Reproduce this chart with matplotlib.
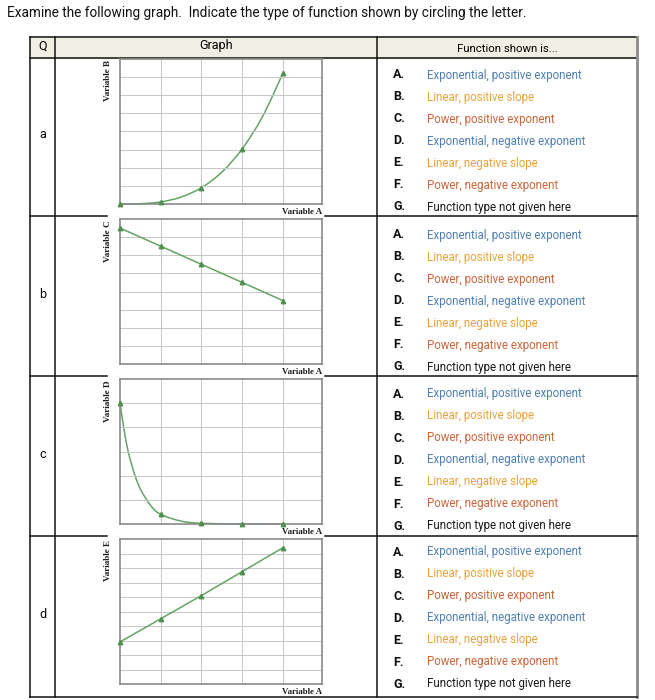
"""Worksheet: identify the function type shown in four small graphs."""
import matplotlib
matplotlib.use("Agg")
import matplotlib.pyplot as plt
from matplotlib.path import Path
from matplotlib.patches import PathPatch
import numpy as np

W, H = 655, 700
SANS = ["Roboto", "DejaVu Sans"]
SERIF = ["Liberation Serif", "DejaVu Serif"]

TITLE = "Examine the following graph.  Indicate the type of function shown by circling the letter."
HEADERS = ["Q", "Graph", "Function shown is..."]
ROW_LABELS = ["a", "b", "c", "d"]
Y_LABELS = ["Variable B", "Variable C", "Variable D", "Variable E"]
X_LABEL = "Variable A"

OPTION_LETTERS = ["A.", "B.", "C.", "D.", "E.", "F.", "G."]
OPTION_TEXTS = [
    "Exponential, positive exponent",
    "Linear, positive slope",
    "Power, positive exponent",
    "Exponential, negative exponent",
    "Linear, negative slope",
    "Power, negative exponent",
    "Function type not given here",
]
OPTION_COLORS = ["#4f7fb3", "#e8a23c", "#c9663c", "#4f7fb3", "#e8a23c", "#c9663c", "#1a1a1a"]

# marker points (x = 0..4) for each graph
MARK_X = [0, 1, 2, 3, 4]
MARK_Y = [
    [0, 1, 8, 27, 64],
    [7.5, 6.5, 5.5, 4.5, 3.5],
    [5.0, 0.4, 0.03, 0.0, 0.0],
    [2.9, 4.5, 6.1, 7.75, 9.4],
]
# extra points
CURVE_A_X = [0, 0.5, 1, 1.5, 2, 2.5, 3, 3.5, 4]
CURVE_A_Y = [0, 0.15, 1, 3.4, 8, 15.6, 27, 42.8, 64]
CURVE_C_X = [0, 0.1, 0.2, 0.35, 0.5, 0.75, 1, 1.5, 2, 3, 4]
CURVE_C_Y = [5.0, 3.9, 3.0, 2.1, 1.45, 0.77, 0.4, 0.12, 0.03, 0.0, 0.0]

Y_MAX = [71, 8, 6, 10]
Y_STEP = [71 / 8, 1, 1, 1]

# table geometry (pixels from top-left)
TABLE_L, TABLE_R = 30, 637
COL_Q, COL_F = 55, 377
HEAD_T, HEAD_B = 37, 58
ROW_B = [216, 376, 536, 697]
BOX_T = [59, 219, 379, 539]
BOX_H = 145
BOX_L, BOX_R = 120, 322
OPT_Y0 = [75, 235, 394, 552]
OPT_DY = 22

LINE_C = "#64a464"
GRID_C = "#c9c9c9"
FRAME_C = "#8a8a8a"


def smooth_path(xs, ys):
    """Catmull-Rom style Bezier path through the given points."""
    pts = np.column_stack([xs, ys]).astype(float)
    verts, codes = [pts[0]], [Path.MOVETO]
    for i in range(len(pts) - 1):
        p0 = pts[max(i - 1, 0)]
        p1, p2 = pts[i], pts[i + 1]
        p3 = pts[min(i + 2, len(pts) - 1)]
        verts += [p1 + (p2 - p0) / 6, p2 - (p3 - p1) / 6, p2]
        codes += [Path.CURVE4] * 3
    return Path(verts, codes)


def px_rect(l, t, r, b):
    return [l / W, 1 - b / H, (r - l) / W, (b - t) / H]


fig = plt.figure(figsize=(W / 100, H / 100), dpi=100)
bg = fig.add_axes([0, 0, 1, 1])
bg.set_xlim(0, W)
bg.set_ylim(H, 0)
bg.axis("off")

bg.text(7, 13, TITLE, fontsize=9.8, family=SANS, va="center", ha="left", color="#111111")

# header band
bg.fill_between([TABLE_L, TABLE_R], HEAD_T, HEAD_B, color="#f1efe3", zorder=0)
bg.text((TABLE_L + COL_Q) / 2, 46, HEADERS[0], fontsize=9, family=SANS, ha="center", va="center")
bg.text((COL_Q + COL_F) / 2, 46, HEADERS[1], fontsize=9, family=SANS, ha="center", va="center")
bg.text((COL_F + TABLE_R) / 2, 49, HEADERS[2], fontsize=8.2, family=SANS, ha="center", va="center")

lk = dict(color="#111111", lw=1.1)
bg.plot([TABLE_L, TABLE_R], [HEAD_T, HEAD_T], **lk)
bg.plot([TABLE_L, TABLE_R], [HEAD_B, HEAD_B], **lk)
bg.plot([TABLE_L, TABLE_L], [HEAD_T, ROW_B[-1]], **lk)
bg.plot([COL_Q, COL_Q], [HEAD_T, ROW_B[-1]], **lk)
bg.plot([COL_F, COL_F], [HEAD_T, ROW_B[-1]], **lk)
bg.plot([TABLE_R, TABLE_R], [HEAD_T, ROW_B[-1]], color="#8c8c8c", lw=2)
for i, yb in enumerate(ROW_B):
    if i == len(ROW_B) - 1:
        bg.plot([TABLE_L, TABLE_R], [yb, yb], **lk)
    else:
        # the chart images sit on top of the row lines
        bg.plot([TABLE_L, 107], [yb, yb], **lk)
        bg.plot([325, TABLE_R], [yb, yb], **lk)

for i, lab in enumerate(ROW_LABELS):
    top = HEAD_B if i == 0 else ROW_B[i - 1]
    bg.text((TABLE_L + COL_Q) / 2, (top + ROW_B[i]) / 2 - 2, lab, fontsize=9,
            family=SANS, ha="center", va="center")
    for j in range(7):
        y = OPT_Y0[i] + j * OPT_DY
        bg.text(393, y, OPTION_LETTERS[j], fontsize=9, family=SANS, weight="bold",
                ha="left", va="center", color="#111111")
        bg.text(427, y, OPTION_TEXTS[j], fontsize=8.3, family=SANS,
                ha="left", va="center", color=OPTION_COLORS[j])

# the four small graphs
for i in range(4):
    ax = fig.add_axes(px_rect(BOX_L, BOX_T[i], BOX_R, BOX_T[i] + BOX_H))
    ax.set_xlim(0, 4.96)
    ax.set_ylim(0, Y_MAX[i])
    ax.set_xticks([1, 2, 3, 4])
    ax.set_yticks(np.arange(1, 8 if i == 0 else Y_MAX[i]) * Y_STEP[i])
    ax.grid(True, color=GRID_C, lw=0.8)
    ax.tick_params(length=0, labelbottom=False, labelleft=False)
    for s in ax.spines.values():
        s.set_color(FRAME_C)
        s.set_linewidth(1.2)

    if i == 0:
        ax.add_patch(PathPatch(smooth_path(CURVE_A_X, CURVE_A_Y), fill=False,
                               edgecolor=LINE_C, lw=1.1, clip_on=False))
    elif i == 2:
        ax.add_patch(PathPatch(smooth_path(CURVE_C_X, CURVE_C_Y), fill=False,
                               edgecolor=LINE_C, lw=1.1, clip_on=False))
    else:
        ax.plot(MARK_X, MARK_Y[i], color=LINE_C, lw=1.1, clip_on=False)
    ax.plot(MARK_X, MARK_Y[i], ls="none", marker="^", ms=3.2, color="#4f8f4f",
            clip_on=False, zorder=5)

    bg.text(108, BOX_T[i] + 1, Y_LABELS[i], rotation=90, fontsize=6.6, family=SERIF,
            weight="bold", ha="center", va="top", color="#1a1a1a")
    bg.text(BOX_R, BOX_T[i] + BOX_H + 8, X_LABEL, fontsize=6.3, family=SERIF,
            weight="bold", ha="right", va="center", color="#1a1a1a")

fig.savefig("out.png", dpi=100)
